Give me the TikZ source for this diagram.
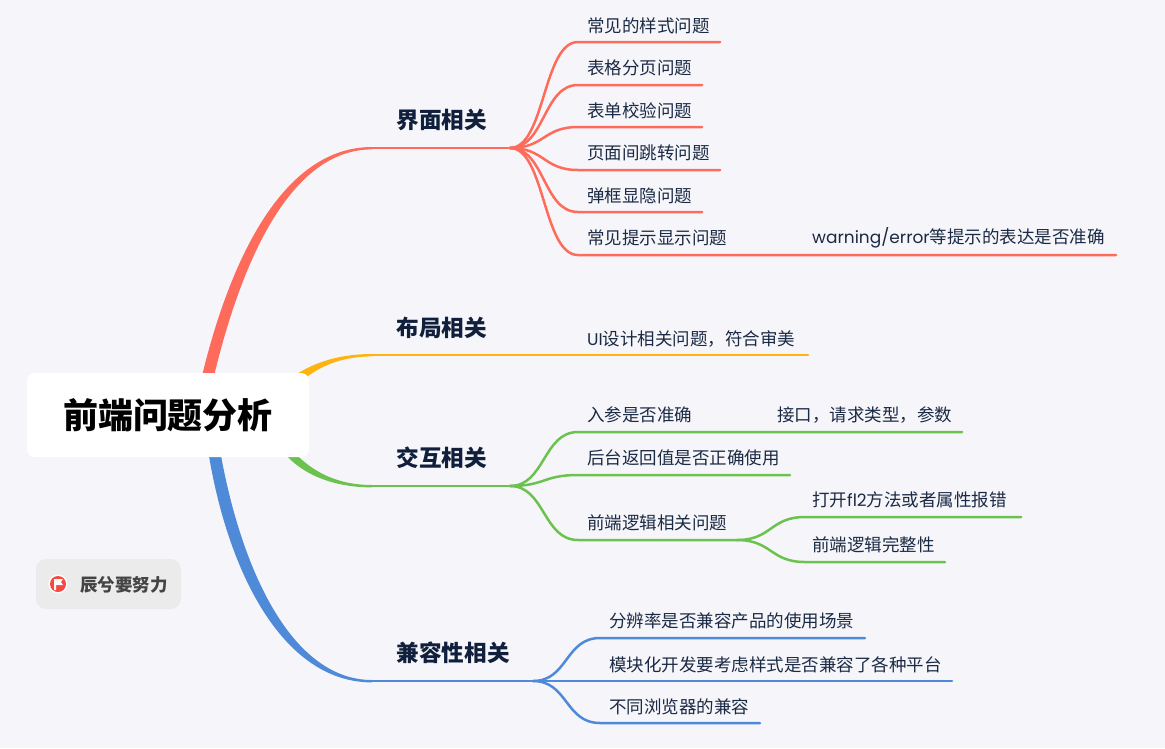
\documentclass[tikz,border=0pt]{standalone}
\usepackage{fontspec}
\setmainfont{Noto Sans CJK SC}
\newfontfamily\latfont[Scale=0.97]{Poppins}
\newcommand{\lat}[1]{{\latfont #1}}
\definecolor{cbg}{HTML}{F6F6FA}
\definecolor{cred}{HTML}{FF6B5B}
\definecolor{cyel}{HTML}{FFB30F}
\definecolor{cgrn}{HTML}{6CC24F}
\definecolor{cblu}{HTML}{4F8AD9}
\definecolor{cnavy}{HTML}{1B2A44}
\definecolor{cdark}{HTML}{0F1F3C}
\definecolor{cgrey}{HTML}{444444}
\definecolor{cpill}{HTML}{EBEBEB}
\definecolor{cflag}{HTML}{F5483F}
\tikzset{
  leaf/.style={anchor=west,inner sep=0pt,yshift=-0.8pt,text=cnavy,font=\fontsize{17.5}{20}\selectfont},
  topic/.style={anchor=west,inner sep=0pt,yshift=-0.6pt,xshift=-0.6pt,text=cdark,font=\fontsize{22.6}{26}\selectfont\bfseries},
  rootbox/.style={fill=white,rounded corners=8pt,minimum width=282pt,minimum height=84pt,inner sep=0pt,text=black,font=\fontsize{35}{40}\selectfont\bfseries},
  pill/.style={fill=cpill,rounded corners=10pt,minimum width=145pt,minimum height=50pt,inner sep=0pt},
  branch/.style={line width=2.5pt,line cap=round},
}
\begin{document}
\begin{tikzpicture}[x=1pt,y=-1pt]
\useasboundingbox (0,0) rectangle (1165,748);
\fill[cbg] (0,0) rectangle (1165,748);
% tapered main branches
\fill[cred] (201,380) .. controls (229,262) and (282,147) .. (372,147) -- (372,149.4) .. controls (290,149.4) and (241,262) .. (213,380) -- cycle;
\fill[cyel] (288,380) .. controls (312,362) and (340,354) .. (372,354) -- (372,356.4) .. controls (342,356.4) and (318,366) .. (298,384) -- cycle;
\fill[cgrn] (282,450) .. controls (298,472) and (330,487.4) .. (372,487.4) -- (372,485) .. controls (335,485) and (310,470) .. (292,450) -- cycle;
\fill[cblu] (208,450) .. controls (227,570) and (282,682.4) .. (372,682.4) -- (372,680) .. controls (292,680) and (241,570) .. (220,450) -- cycle;
% coordinates
\coordinate (rh) at (510,148); \coordinate (rs) at (372,148);
\coordinate (ra1) at (578,42);  \coordinate (rb1) at (720,42);
\coordinate (ra2) at (578,85);  \coordinate (rb2) at (702,85);
\coordinate (ra3) at (578,127); \coordinate (rb3) at (702,127);
\coordinate (ra4) at (578,170); \coordinate (rb4) at (720,170);
\coordinate (ra5) at (578,212); \coordinate (rb5) at (702,212);
\coordinate (ra6) at (578,255); \coordinate (rb6) at (1116,255);
\coordinate (ys) at (372,355); \coordinate (ye) at (808,355);
\coordinate (gs) at (372,486); \coordinate (gh) at (510,486);
\coordinate (ga1) at (578,432); \coordinate (gb1) at (962,432);
\coordinate (ga2) at (578,475); \coordinate (gb2) at (790,475);
\coordinate (ga3) at (578,540); \coordinate (gh2) at (737,540);
\coordinate (ga4) at (805,517); \coordinate (gb4) at (1021,517);
\coordinate (ga5) at (805,562); \coordinate (gb5) at (945,562);
\coordinate (bs) at (372,681); \coordinate (bh) at (533,681);
\coordinate (ba1) at (600,638); \coordinate (bb1) at (865,638);
\coordinate (ba2) at (600,681); \coordinate (bb2) at (952,681);
\coordinate (ba3) at (600,723); \coordinate (bb3) at (760,723);
% red
\draw[branch,cred] (rs) -- (rh);
\foreach \i in {1,...,6}{
  \draw[branch,cred] (rh) .. controls +(35,0) and +(-35,0) .. (ra\i) -- (rb\i);
}
% yellow
\draw[branch,cyel] (ys) -- (ye);
% green
\draw[branch,cgrn] (gs) -- (gh);
\foreach \i in {1,2}{
  \draw[branch,cgrn] (gh) .. controls +(35,0) and +(-35,0) .. (ga\i) -- (gb\i);
}
\draw[branch,cgrn] (gh) .. controls +(35,0) and +(-35,0) .. (ga3) -- (gh2);
\foreach \i in {4,5}{
  \draw[branch,cgrn] (gh2) .. controls +(35,0) and +(-35,0) .. (ga\i) -- (gb\i);
}
% blue
\draw[branch,cblu] (bs) -- (bh);
\foreach \i in {1,2,3}{
  \draw[branch,cblu] (bh) .. controls +(35,0) and +(-35,0) .. (ba\i) -- (bb\i);
}
% root
\node[rootbox] (root) at (168,415) {前端问题分析};
% topics
\node[topic] (t1) at (397,119) {界面相关};
\node[topic] (t2) at (397,327) {布局相关};
\node[topic] (t3) at (397,457) {交互相关};
\node[topic] (t4) at (397,652) {兼容性相关};
% leaves
\node[leaf] (r1) at (587,25) {常见的样式问题};
\node[leaf] (r2) at (587,67) {表格分页问题};
\node[leaf] (r3) at (587,110) {表单校验问题};
\node[leaf] (r4) at (587,152) {页面间跳转问题};
\node[leaf] (r5) at (587,195) {弹框显隐问题};
\node[leaf] (r6) at (587,237) {常见提示显示问题};
\node[leaf] (r7) at (812,237) {\lat{warning/error}等提示的表达是否准确};
\node[leaf] (y1) at (587,338) {\lat{UI}设计相关问题，符合审美};
\node[leaf] (g1) at (587,414) {入参是否准确};
\node[leaf] (g2) at (777,414) {接口，请求类型，参数};
\node[leaf] (g3) at (587,457) {后台返回值是否正确使用};
\node[leaf] (g4) at (587,522) {前端逻辑相关问题};
\node[leaf] (g5) at (812,499) {打开\lat{fl2}方法或者属性报错};
\node[leaf] (g6) at (812,544) {前端逻辑完整性};
\node[leaf] (b1) at (609,620) {分辨率是否兼容产品的使用场景};
\node[leaf] (b2) at (609,664) {模块化开发要考虑样式是否兼容了各种平台};
\node[leaf] (b3) at (609,706) {不同浏览器的兼容};
% footer pill
\node[pill] (badge) at (108.5,584) {};
\node[anchor=west,inner sep=0pt,text=cgrey,font=\fontsize{17.5}{20}\selectfont\bfseries] (brand) at (80,584.5) {辰兮要努力};
\fill[white] (58,584) circle (9.5);
\fill[cflag] (58,584) circle (8);
\fill[white] (54,579) -- (63,579) -- (61,582) -- (63,585) -- (56,585) -- (56,590) -- (54,590) -- cycle;
\end{tikzpicture}
\end{document}
